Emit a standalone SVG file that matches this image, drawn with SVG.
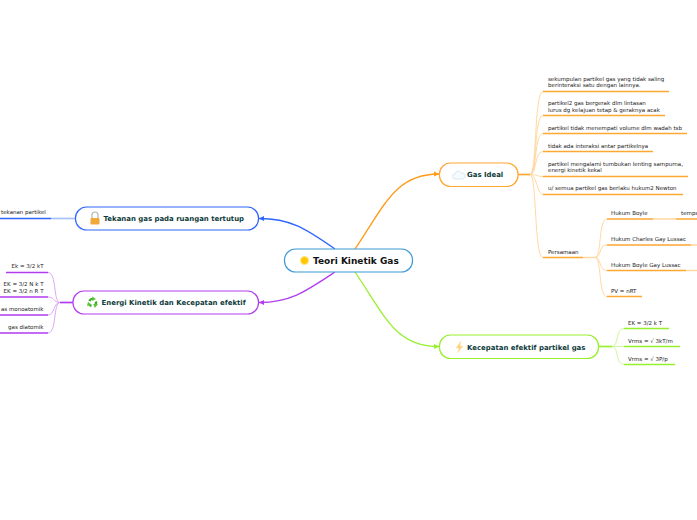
<svg xmlns="http://www.w3.org/2000/svg" width="697" height="520" viewBox="0 0 697 520">
<style>
text{font-family:"DejaVu Sans",Verdana,sans-serif}
.t{font-weight:bold;font-size:6.95px;fill:#0d3b3b}
.l{font-size:5.5px;fill:#222}
.r{fill:#fff;stroke-width:1.2}
.c{fill:none;stroke-width:1}
.m{fill:none;stroke-width:1.3}
.u{fill:none;stroke-width:1.7}
.o{stroke:#ffa733}.ol{stroke:#ffd9a3}.b{stroke:#2f66ff}.bl{stroke:#a9c0ff}.p{stroke:#b13df0}.pl{stroke:#dca9f7}.g{stroke:#97f02e}.gl{stroke:#cdf79c}
</style>
<defs>
<marker id="ao" markerUnits="userSpaceOnUse" markerWidth="6" markerHeight="6" refX="5" refY="3" orient="auto"><path d="M0 0.5L5 3L0 5.500z" fill="#ff9a1a"/></marker>
<marker id="ab" markerUnits="userSpaceOnUse" markerWidth="6" markerHeight="6" refX="5" refY="3" orient="auto"><path d="M0 0.5L5 3L0 5.500z" fill="#2f66ff"/></marker>
<marker id="ap" markerUnits="userSpaceOnUse" markerWidth="6" markerHeight="6" refX="5" refY="3" orient="auto"><path d="M0 0.5L5 3L0 5.500z" fill="#b13df0"/></marker>
<marker id="ag" markerUnits="userSpaceOnUse" markerWidth="6" markerHeight="6" refX="5" refY="3" orient="auto"><path d="M0 0.5L5 3L0 5.500z" fill="#97f02e"/></marker>
</defs>
<g id="connectors">
<path class="m" stroke="#ff9a1a" marker-end="url(#ao)" d="M355 249C385 205 395 174 439 174"/>
<path class="m" stroke="#97f02e" marker-end="url(#ag)" d="M355 272C385 316 395 346.500 439 346.500"/>
<path class="m" stroke="#2f66ff" marker-end="url(#ab)" d="M335 249C305 228 290 218.500 259 218.500"/>
<path class="m" stroke="#b13df0" marker-end="url(#ap)" d="M335 272C305 292 290 302.500 259 302.500"/>
<g class="c ol">
<path d="M530 174.500C537 174.500 534 91.500 543 91.500"/>
<path d="M530 174.500C537 174.500 534 115.500 543 115.500"/>
<path d="M530 174.500C537 174.500 534 133.500 543 133.500"/>
<path d="M530 174.500C537 174.500 534 151.500 543 151.500"/>
<path d="M530 174.500C537 174.500 537 176.500 543 176.500"/>
<path d="M530 174.500C537 174.500 537 194.500 543 194.500"/>
<path d="M530 174.500C537 174.500 534 257.500 543 257.500"/>
<path d="M595 257.500C602 257.500 598 219 607 219"/>
<path d="M595 257.500C602 257.500 598 245 607 245"/>
<path d="M595 257.500C602 257.500 598 270.500 607 270.500"/>
<path d="M595 257.500C602 257.500 598 296.500 607 296.500"/>
</g>
<path class="u o" d="M518 174.500H530"/>
<path class="u ol" d="M583 257.500H595M653 219H676M691 245H697M686 270.500H697"/>
<g class="c gl">
<path d="M612 346.500C619 346.500 615 328.500 624 328.500"/>
<path d="M612 346.500H624"/>
<path d="M612 346.500C619 346.500 615 364.500 624 364.500"/>
</g>
<path class="u g" d="M599 346.500H612"/>
<path class="u bl" d="M51 218.500H75.500"/>
<g class="c pl">
<path d="M60 302.500C53 302.500 57 272.500 48 272.500"/>
<path d="M60 302.500C53 302.500 55 297 48 297"/>
<path d="M60 302.500C53 302.500 55 315 48 315"/>
<path d="M60 302.500C53 302.500 57 333 48 333"/>
</g>
<path class="u p" d="M60 302.500H73"/>
</g>
<g id="center">
<rect x="284.500" y="249" width="128" height="23" rx="11" class="r" stroke="#3d9ad6"/>
<circle cx="304.500" cy="260.500" r="4" fill="#ffc800" stroke="#ffe680"/>
<text x="313" y="264" font-weight="bold" font-size="9" fill="#111">Teori Kinetik Gas</text>
</g>
<g id="gas-ideal">
<rect x="439.500" y="163" width="78.500" height="23.500" rx="11" class="r" stroke="#ffa733"/>
<path d="M455 179a2.500 2.500 0 0 1 0-5a3.500 3.500 0 0 1 6.500-1a3 3 0 0 1 1 6z" fill="#f4fafd" stroke="#cfe5f2" stroke-width="0.800"/>
<text x="467" y="177" class="t">Gas Ideal</text>
</g>
<g id="kecepatan">
<rect x="439.500" y="335" width="159" height="23.500" rx="11" class="r" stroke="#97f02e"/>
<path d="M461 341L456 348H459L457.500 353L463 346H460z" fill="#ffd27a" stroke="#ffe3ad" stroke-width="0.500"/>
<text x="467" y="349.500" class="t">Kecepatan efektif partikel gas</text>
</g>
<g id="tekanan">
<rect x="75.500" y="207" width="183" height="23" rx="11" class="r" stroke="#2f66ff"/>
<path d="M92 218v-3a3 3 0 0 1 6 0v3" fill="none" stroke="#b5b5b5" stroke-width="1.200"/>
<rect x="90.500" y="218" width="9" height="6.500" rx="1" fill="#f2a93b"/>
<text x="103.500" y="221" class="t">Tekanan gas pada ruangan tertutup</text>
</g>
<g id="energi">
<rect x="73" y="291" width="185.500" height="23" rx="11" class="r" stroke="#b13df0"/>
<g fill="none" stroke="#3fae2a" stroke-width="2.400">
<path d="M89.300 301A3.700 3.700 0 0 1 93 298.900"/>
<path d="M95.800 301.500A3.700 3.700 0 0 1 94.800 305.500"/>
<path d="M91.500 306A3.700 3.700 0 0 1 89 303.800"/>
</g>
<path d="M92.300 296.500L96 299L92.300 301zM98 304L94.800 308L93.200 304zM87 306L88 301.800L91 305z" fill="#5cc43a"/>
<text x="101.500" y="305" class="t">Energi Kinetik dan Kecepatan efektif</text>
</g>
<g id="gas-leaves">
<path class="u o" d="M543 91.500H669M543 115.500H665M543 133.500H687M543 151.500H653M543 176.500H688M543 194.500H683M543 257.500H583M607 219H653M676 219H697M607 245H691M607 270.500H686M607 296.500H642"/>
<text class="l" x="548" y="81">sekumpulan partikel gas yang tidak saling</text>
<text class="l" x="548" y="87">berinteraksi satu dengan lainnya.</text>
<text class="l" x="548" y="105">partikel2 gas bergerak dlm lintasan</text>
<text class="l" x="548" y="112">lurus dg kelajuan tetap &amp; geraknya acak</text>
<text class="l" x="548" y="130">partikel tidak menempati volume dlm wadah tsb</text>
<text class="l" x="548" y="148">tidak ada interaksi antar partikelnya</text>
<text class="l" x="548" y="166">partikel mengalami tumbukan lenting sampurna,</text>
<text class="l" x="548" y="172">energi kinetik kekal</text>
<text class="l" x="548" y="190">u/ semua partikel gas berlaku hukum2 Newton</text>
<text class="l" x="548" y="254">Persamaan</text>
<text class="l" x="611" y="215">Hukum Boyle</text>
<text class="l" x="681" y="215">tempe</text>
<text class="l" x="611" y="241">Hukum Charles Gay Lussac</text>
<text class="l" x="611" y="267">Hukum Boyle Gay Lussac</text>
<text class="l" x="611" y="293">PV = nRT</text>
</g>
<g id="kecepatan-leaves">
<path class="u g" d="M624 328.500H669M624 346.500H680M624 364.500H675"/>
<text class="l" x="628" y="325">EK = 3/2 k T</text>
<text class="l" x="628" y="343">Vrms = √ 3kT/m</text>
<text class="l" x="628" y="361">Vrms = √ 3P/p</text>
</g>
<g id="tekanan-leaf">
<path class="u b" d="M0 218.500H51"/>
<text class="l" x="1" y="214">tekanan partikel</text>
</g>
<g id="energi-leaves">
<path class="u p" d="M6 272.500H48M0 297H48M0 315H48M0 333H48"/>
<g text-anchor="end">
<text class="l" x="43.500" y="268">Ek = 3/2 kT</text>
<text class="l" x="43.500" y="286">EK = 3/2 N k T</text>
<text class="l" x="43.500" y="293">EK = 3/2 n R T</text>
<text class="l" x="43.500" y="311">as monoatomik</text>
<text class="l" x="43.500" y="329">gas diatomik</text>
</g>
</g>
</svg>
